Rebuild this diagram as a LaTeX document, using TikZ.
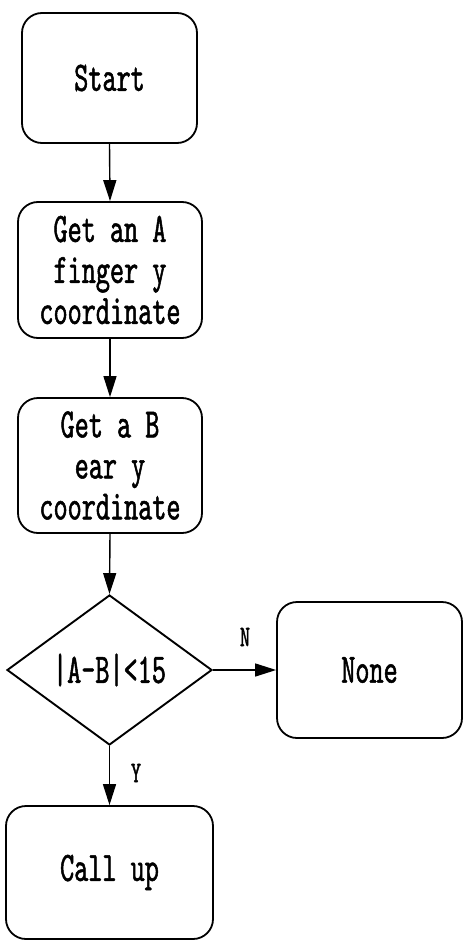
\documentclass[tikz,border=0pt]{standalone}
\usepackage{fontspec}
\newfontfamily\flowfont{lmmono10-regular.otf}[FakeStretch=0.64,FakeBold=1.2]
\usetikzlibrary{arrows.meta,shapes.geometric}
\begin{document}
\begin{tikzpicture}[x=1pt,y=-1pt,
  box/.style={draw,line width=1.8pt,rounded corners=20pt,inner sep=0pt,align=center,
    font=\flowfont\fontsize{42}{41}\selectfont},
  decision/.style={draw,line width=1.9pt,shape=diamond,shape aspect=1.367,inner sep=0pt,
    minimum width=205pt,minimum height=150pt,font=\flowfont\fontsize{42}{41}\selectfont},
  arr/.style={line width=1.4pt,-{Triangle[length=21pt,width=13pt]}},
  lbl/.style={font=\flowfont\fontsize{30}{30}\selectfont,inner sep=0pt}]
\useasboundingbox (0,0) rectangle (474,952);
\node[box,minimum width=175pt,minimum height=130pt] (start) at (109.5,78) {Start};
\node[box,minimum width=184pt,minimum height=136pt] (getA) at (110,270) {Get an A\\finger y\\coordinate};
\node[box,minimum width=184pt,minimum height=135pt] (getB) at (110,465.5) {Get a B\\ear y\\coordinate};
\node[decision] (cmp) at (109.5,670) {|A-B|<15};
\node[box,minimum width=185pt,minimum height=136pt] (none) at (369.5,670) {None};
\node[box,minimum width=207pt,minimum height=133pt] (call) at (109.5,872.5) {Call up};
\draw[arr] (start.south) -- (getA.north);
\draw[arr] (getA.south) -- (getB.north);
\draw[arr] (getB.south) -- (cmp.north);
\draw[arr] (cmp.east) -- (none.west);
\draw[arr] (cmp.south) -- (call.north);
\node[lbl] (nlab) at (245,637) {N};
\node[lbl] (ylab) at (136,773) {Y};
\end{tikzpicture}
\end{document}
